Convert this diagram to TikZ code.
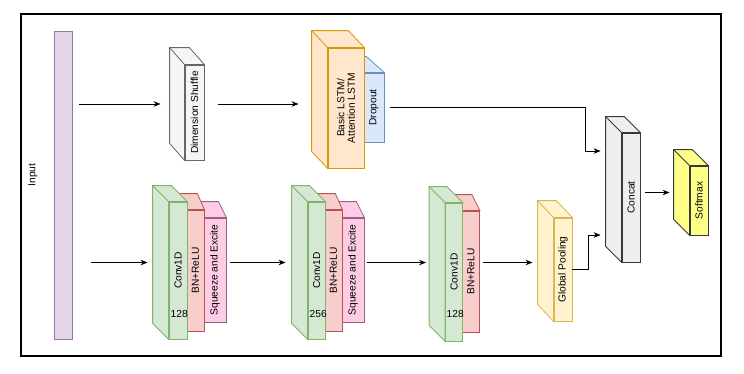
\documentclass[tikz,border=0pt]{standalone}
\usepackage{fontspec}
\setmainfont{Liberation Sans}
\usepackage{graphicx}
\usetikzlibrary{arrows.meta,calc,positioning}
\definecolor{inpfill}{HTML}{E1D5E7}
\definecolor{inpline}{HTML}{9673A6}
\definecolor{greyfill}{HTML}{F5F5F5}
\definecolor{greyline}{HTML}{666666}
\definecolor{orfill}{HTML}{FFE6CC}
\definecolor{orline}{HTML}{D79B00}
\definecolor{bluefill}{HTML}{DAE8FC}
\definecolor{blueline}{HTML}{6C8EBF}
\definecolor{grnfill}{HTML}{D5E8D4}
\definecolor{grnline}{HTML}{82B366}
\definecolor{redfill}{HTML}{F8CECC}
\definecolor{redline}{HTML}{B85450}
\definecolor{pinkfill}{HTML}{FFCCE6}
\definecolor{pinkline}{HTML}{996185}
\definecolor{yelfill}{HTML}{FFF2CC}
\definecolor{yelline}{HTML}{D6B656}
\definecolor{catfill}{HTML}{EEEEEE}
\definecolor{darkline}{HTML}{36393D}
\definecolor{softfill}{HTML}{FFFF88}
\tikzset{
  flow/.style={-{Stealth[length=7pt,width=5.5pt]}, line width=0.9pt, draw=black},
  layer/.style={
    rectangle,
    line width=0.8pt,
    inner sep=0pt,
    align=center,
    font=\fontsize{10.2}{11.7}\selectfont
  },
  inbox/.style={layer, fill=inpfill, draw=inpline},
  greybox/.style={layer, fill=greyfill, draw=greyline},
  lstmbox/.style={layer, fill=orfill, draw=orline},
  dropbox/.style={layer, fill=bluefill, draw=blueline},
  convbox/.style={layer, fill=grnfill, draw=grnline},
  bnbox/.style={layer, fill=redfill, draw=redline},
  sebox/.style={layer, fill=pinkfill, draw=pinkline},
  poolbox/.style={layer, fill=yelfill, draw=yelline},
  catbox/.style={layer, fill=catfill, draw=darkline},
  softbox/.style={layer, fill=softfill, draw=darkline},
  tinylabel/.style={font=\fontsize{10.2}{12}\selectfont, inner sep=0pt}
}
% top and left faces of a block: node, style, depth x, depth y
\newcommand{\blockside}[4]{%
  \filldraw[#2] ($(#1.south west)+(-#3,-#4)$) -- ($(#1.north west)+(-#3,-#4)$)
    -- ($(#1.north east)+(-#3,-#4)$) -- (#1.north east) -- (#1.north west)
    -- (#1.south west) -- cycle;
  \draw[#2] ($(#1.north west)+(-#3,-#4)$) -- (#1.north west);
  \coordinate (#1-back) at ($(#1.west)+(-#3,-#4/2)$);
}

\begin{document}
\begin{tikzpicture}[x=1pt,y=-1pt]
  \useasboundingbox (0,0) rectangle (744,373);
  \draw[line width=1.2pt] (21,14) rectangle (721,356);

  \node[tinylabel] (inlabel) at (33,175) {\rotatebox{90}{Input}};
  \node[inbox,minimum width=18pt,minimum height=308pt] (input) at (63,185) {};

  % recurrent branch
  \node[greybox,minimum width=19pt,minimum height=95pt] (shuffle) at (194.5,112.5)
    {\rotatebox{90}{Dimension Shuffle}};
  \blockside{shuffle}{greybox}{15}{17}

  \node[dropbox,minimum width=20pt,minimum height=69pt] (dropout) at (374,107.5)
    {\rotatebox{90}{Dropout}};
  \blockside{dropout}{dropbox}{18}{16}
  \node[lstmbox,minimum width=36pt,minimum height=120pt] (lstm) at (346,108)
    {\rotatebox{90}{\shortstack{Basic LSTM/\\Attention LSTM}}};
  \blockside{lstm}{lstmbox}{16}{17}

  \draw[flow,shorten <=7pt,shorten >=9pt] (input.east |- shuffle-back) -- (shuffle-back);
  \draw[flow,shorten <=14pt,shorten >=13pt] (shuffle.east |- shuffle-back) -- (lstm-back |- shuffle-back);

  % convolution branch
  \node[sebox,minimum width=22pt,minimum height=104pt] (se1) at (215,270)
    {\rotatebox{90}{Squeeze and Excite}};
  \blockside{se1}{sebox}{8}{16}
  \node[bnbox,minimum width=17pt,minimum height=121pt] (bn1) at (195.5,270.5)
    {\rotatebox{90}{BN+ReLU}};
  \blockside{bn1}{bnbox}{7}{16}
  \node[convbox,minimum width=18pt,minimum height=137pt] (conv1) at (178,270.5)
    {\rotatebox{90}{Conv1D}};
  \blockside{conv1}{convbox}{16}{16}
  \node[tinylabel,anchor=west] (num1) at (170.5,314) {128};

  \node[sebox,minimum width=22pt,minimum height=104pt] (se2) at (353,270)
    {\rotatebox{90}{Squeeze and Excite}};
  \blockside{se2}{sebox}{8}{16}
  \node[bnbox,minimum width=17pt,minimum height=121pt] (bn2) at (333.5,270.5)
    {\rotatebox{90}{BN+ReLU}};
  \blockside{bn2}{bnbox}{7}{16}
  \node[convbox,minimum width=17pt,minimum height=137pt] (conv2) at (316.5,270.5)
    {\rotatebox{90}{Conv1D}};
  \blockside{conv2}{convbox}{16}{16}
  \node[tinylabel,anchor=west] (num2) at (309.5,314) {256};

  \node[bnbox,minimum width=17pt,minimum height=121pt] (bn3) at (471,271.5)
    {\rotatebox{90}{BN+ReLU}};
  \blockside{bn3}{bnbox}{8}{16}
  \node[convbox,minimum width=17pt,minimum height=138pt] (conv3) at (454,272)
    {\rotatebox{90}{Conv1D}};
  \blockside{conv3}{convbox}{16}{16}
  \node[tinylabel,anchor=west] (num3) at (446.5,314) {128};

  \node[poolbox,minimum width=18pt,minimum height=103pt] (pool) at (563,269.5)
    {\rotatebox{90}{Global Pooling}};
  \blockside{pool}{poolbox}{16}{17}

  \draw[flow,shorten <=19pt,shorten >=5pt] (input.east |- conv1-back) -- (conv1-back);
  \draw[flow,shorten <=4pt,shorten >=6pt] (se1.east |- conv2-back) -- (conv2-back);
  \draw[flow,shorten <=3pt,shorten >=3pt] (se2.east |- conv2-back) -- (conv3-back |- conv2-back);
  \draw[flow,shorten <=3pt,shorten >=5pt] (bn3.east |- conv2-back) -- (pool-back |- conv2-back);

  % merge
  \node[catbox,minimum width=18pt,minimum height=129pt] (concat) at (631,197.5)
    {\rotatebox{90}{Concat}};
  \blockside{concat}{catbox}{16}{16}
  \node[softbox,minimum width=18pt,minimum height=69pt] (softmax) at (699,200.5)
    {\rotatebox{90}{Softmax}};
  \blockside{softmax}{softbox}{16}{16}

  \draw[flow,shorten <=6pt,shorten >=5pt] (dropout.east) -- ++(201,0)
    |- ([yshift=38.5pt]concat-back);
  \draw[flow,shorten >=5pt] (pool.east) -- ++(16,0) |- ([yshift=-45.5pt]concat-back);
  \draw[flow,shorten <=5pt,shorten >=4pt] (concat.east |- softmax-back) -- (softmax-back);
\end{tikzpicture}
\end{document}
